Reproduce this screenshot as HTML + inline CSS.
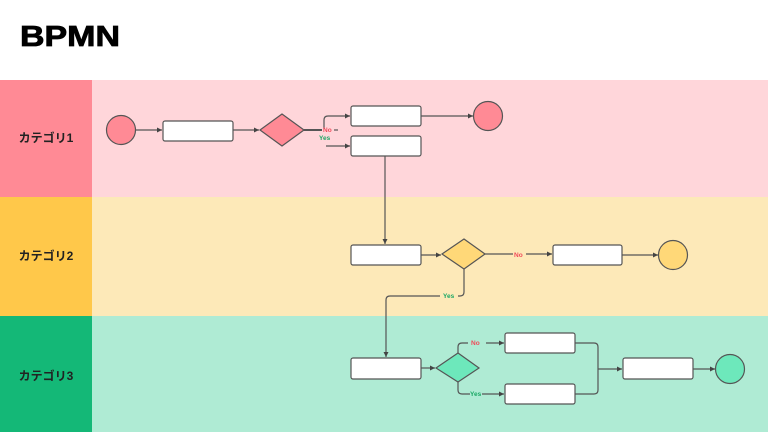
<!DOCTYPE html>
<html><head><meta charset="utf-8"><style>
html,body{margin:0;padding:0;background:#fff;}
svg{display:block;}
text{font-family:"Liberation Sans","Noto Sans CJK JP",sans-serif;}
</style></head><body>
<svg width="768" height="432" viewBox="0 0 768 432" xmlns="http://www.w3.org/2000/svg">
<defs>
<marker id="a" markerWidth="6" markerHeight="6" refX="5" refY="3" orient="auto" markerUnits="userSpaceOnUse"><path d="M0,0.5 L5,3 L0,5.5z" fill="#444"/></marker>
</defs>
<text x="20" y="46" font-size="29" font-weight="bold" fill="#000" stroke="#000" stroke-width="0.8" textLength="100" lengthAdjust="spacingAndGlyphs">BPMN</text>
<rect x="0" y="80" width="92" height="117" fill="#ff8a95"/>
<rect x="92" y="80" width="676" height="117" fill="#ffd6da"/>
<rect x="0" y="197" width="92" height="119" fill="#ffc84a"/>
<rect x="92" y="197" width="676" height="119" fill="#fde9b8"/>
<rect x="0" y="316" width="92" height="116" fill="#14b877"/>
<rect x="92" y="316" width="676" height="116" fill="#afebd4"/>
<g font-size="12" font-weight="bold" fill="#222" text-anchor="middle">
<text x="46" y="142">カテゴリ1</text>
<text x="46" y="260">カテゴリ2</text>
<text x="46" y="380">カテゴリ3</text>
</g>
<g stroke="#555" stroke-width="1.2" fill="none">
<path d="M135,130 H162" marker-end="url(#a)"/>
<path d="M233,130 H259" marker-end="url(#a)"/>
<path d="M304,130 H322" stroke-width="2"/>
<path d="M334,130 H338"/>
<path d="M324,129 V120 Q324,116 328,116 H350" marker-end="url(#a)"/>
<path d="M326,146 H350" marker-end="url(#a)"/>
<path d="M421,116 H473" marker-end="url(#a)"/>
<path d="M385,156 V244" marker-end="url(#a)"/>
<path d="M421,255 H441" marker-end="url(#a)"/>
<path d="M485,254 H513 M526,254 H552" marker-end="url(#a)"/>
<path d="M622,255 H658" marker-end="url(#a)"/>
<path d="M464,269 V292 Q464,296 460,296 H458 M440,296 H390 Q386,296 386,300 V357" marker-end="url(#a)"/>
<path d="M421,368 H435" marker-end="url(#a)"/>
<path d="M458,353 V347 Q458,343 462,343 H468 M486,343 H504" marker-end="url(#a)"/>
<path d="M458,382 V390 Q458,394 462,394 H470 M482,394 H504" marker-end="url(#a)"/>
<path d="M575,343 H594 Q598,343 598,347 V390 Q598,394 594,394 H575"/>
<path d="M598,369 H622" marker-end="url(#a)"/>
<path d="M693,369 H715" marker-end="url(#a)"/>
</g>
<g stroke="#555" stroke-width="1.2">
<circle cx="121" cy="130" r="14.5" fill="#ff8a95"/>
<circle cx="488" cy="116" r="14.5" fill="#ff8a95"/>
<circle cx="673" cy="255" r="14.5" fill="#ffd878"/>
<circle cx="730" cy="369" r="14.5" fill="#6de8bb"/>
<polygon points="260,130 282,114 304,130 282,146" fill="#ff8a95"/>
<polygon points="442,254 464,239 485,254 464,269" fill="#ffd878"/>
<polygon points="436,368 458,353 479,368 458,382" fill="#6de8bb"/>
<g fill="#fff">
<rect x="163" y="121" width="70" height="20" rx="2"/>
<rect x="351" y="106" width="70" height="20" rx="2"/>
<rect x="351" y="136" width="70" height="20" rx="2"/>
<rect x="351" y="245" width="70" height="20" rx="2"/>
<rect x="553" y="245" width="69" height="20" rx="2"/>
<rect x="351" y="358" width="70" height="21" rx="2"/>
<rect x="505" y="333" width="70" height="20" rx="2"/>
<rect x="505" y="384" width="70" height="20" rx="2"/>
<rect x="623" y="358" width="70" height="21" rx="2"/>
</g>
</g>
<g font-size="6.5" font-weight="bold">
<text x="323" y="132" fill="#f04a5a">No</text>
<text x="319" y="140" fill="#1aa865">Yes</text>
<text x="514" y="257" fill="#f04a5a">No</text>
<text x="443" y="298" fill="#1aa865">Yes</text>
<text x="471" y="345" fill="#f04a5a">No</text>
<text x="470" y="396" fill="#1aa865">Yes</text>
</g>
</svg>
</body></html>
